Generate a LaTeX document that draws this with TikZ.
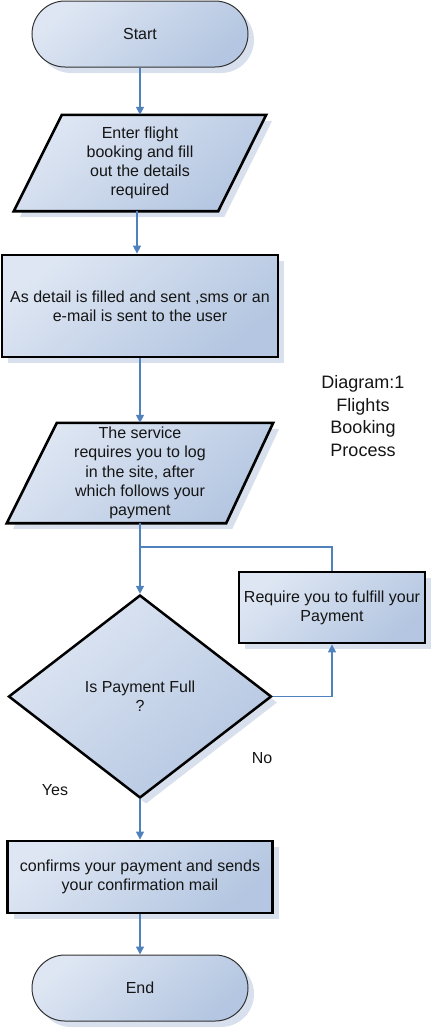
\documentclass[tikz,border=0pt]{standalone}
\usepackage{fontspec}
\setmainfont{Liberation Sans}
\usetikzlibrary{shapes.misc,shapes.geometric,shadows,backgrounds,arrows.meta}
\definecolor{fillA}{HTML}{DEE6F3}
\definecolor{fillB}{HTML}{B4C6E1}
\definecolor{shadowc}{HTML}{D8E0EE}
\definecolor{conncol}{HTML}{4F81BD}
\definecolor{txt}{HTML}{151515}
\begin{document}
\begin{tikzpicture}[x=1pt,y=-1pt,
  every node/.style={font=\fontsize{16}{19.2}\selectfont, text=txt, inner sep=0pt, align=center},
  shadefill/.style={top color=fillA, bottom color=fillB, shading angle=40},
  shad/.style={drop shadow={shadow xshift=6pt, shadow yshift=-6pt, fill=shadowc, opacity=1}},
  term/.style={rounded rectangle, minimum width=216pt, minimum height=66pt, draw=black!80, line width=1pt, shadefill, shad},
  proc/.style={rectangle, draw=black, line width=2.8pt, shadefill, shad},
  iotext/.style={rectangle},
  io/.style={draw=black, line width=2.6pt, line join=miter, shadefill, shad},
  decision/.style={diamond, draw=black, line width=2.5pt, minimum width=263pt, minimum height=203pt, shadefill, shad},
  conn/.style={draw=conncol, line width=1.5pt},
  arrow/.style={conn, -{Triangle[width=8pt,length=8pt]}},
  ]
\useasboundingbox (0,0) rectangle (433,1028);

\node[term] (start) at (140,34) {Start};
\node[iotext, minimum width=252pt, minimum height=96pt] (p1) at (140,163) {Enter flight\\booking and fill\\out the details\\required};
\node[proc, minimum width=276pt, minimum height=102pt] (r2) at (140,306) {As detail is filled and sent ,sms or an\\e-mail is sent to the user};
\node[iotext, minimum width=266pt, minimum height=100pt] (p2) at (140,473) {The service\\requires you to log\\in the site, after\\which follows your\\payment};
\node[font=\fontsize{18}{22.5}\selectfont] (lab) at (363,416) {Diagram:1\\Flights\\Booking\\Process};
\node[proc, minimum width=186pt, minimum height=71pt] (rq) at (332,607.5) {Require you to fulfill your\\Payment};
\node[decision] (dia) at (140,696.5) {Is Payment Full\\?};
\node (no) at (262,758) {No};
\node (yes) at (55,790) {Yes};
\node[proc, minimum width=265pt, minimum height=72pt] (r3) at (140,877) {confirms your payment and sends\\your confirmation mail};
\node[term] (end) at (140,988) {End};

\begin{scope}[on background layer]
\path[io] ([xshift=48pt]p1.north west) -- (p1.north east) -- ([xshift=-48pt]p1.south east) -- (p1.south west) -- cycle;
\path[io] ([xshift=50pt]p2.north west) -- (p2.north east) -- ([xshift=-47pt]p2.south east) -- (p2.south west) -- cycle;
\end{scope}

\coordinate (junc) at (140,547);
\draw[arrow] (start.south) -- (p1.north);
\draw[arrow] ([xshift=-3pt]p1.south) -- ([xshift=-3pt]r2.north);
\draw[arrow] (r2.south) -- (p2.north);
\draw[arrow] (p2.south) -- (dia.north);
\draw[conn] (rq.north) |- (junc);
\draw[arrow] (dia.east) -| (rq.south);
\draw[arrow] (dia.south) -- (r3.north);
\draw[arrow] (r3.south) -- (end.north);
\end{tikzpicture}
\end{document}
